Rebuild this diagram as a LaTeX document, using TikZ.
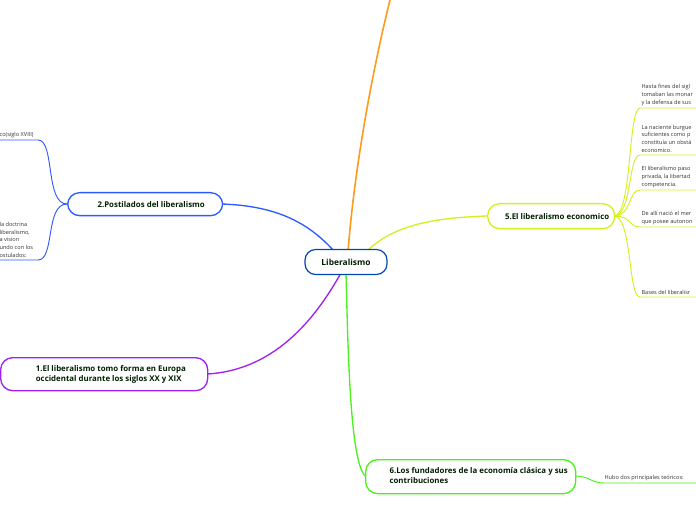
\documentclass[tikz,border=0pt]{standalone}
\usepackage{fontspec}
\setmainfont{Open Sans}
\begin{document}
\begin{tikzpicture}[x=0.75pt,y=-0.75pt,
 topic/.style={draw=#1,line width=1pt,rounded corners=9pt,fill=white,font=\bfseries\fontsize{5.9}{7.6}\selectfont,text=black!70!green!40!black,align=left,inner sep=0pt,anchor=north west},
 leaf/.style={font=\fontsize{4.2}{5.8}\selectfont,text=black!80,align=left,anchor=south west,inner sep=1pt},
 br/.style={draw=#1,line width=0.7pt}]
\useasboundingbox (0,0) rectangle (696,520);
\definecolor{cb}{HTML}{2D5BFF}\definecolor{cp}{HTML}{A020F0}\definecolor{cy}{HTML}{D4F01E}\definecolor{cg}{HTML}{4CF01E}\definecolor{co}{HTML}{FF9A1A}
\draw[br=co,line width=1.2pt] (348,252) .. controls (355,160) and (375,60) .. (390,0);
\draw[br=cb,line width=1pt] (222,204) .. controls (280,206) and (310,225) .. (333,250);
\draw[br=cp,line width=1pt] (207,374) .. controls (280,370) and (320,310) .. (341,273);
\draw[br=cy,line width=1pt] (487,216) .. controls (420,218) and (390,230) .. (368,250);
\draw[br=cg,line width=1pt] (346,273) .. controls (348,350) and (350,460) .. (365,476);
\node[draw=blue!60!cyan!70!black,line width=0.9pt,rounded corners=8pt,fill=white,minimum width=82pt*0.75,minimum height=25pt*0.75,font=\bfseries\fontsize{6.3}{8}\selectfont,text=black!70!green!40!black] (lib) at (346,262) {Liberalismo};
\node[topic=cb,minimum width=155*0.75pt,minimum height=23*0.75pt] (t2) at (67,192) {\hspace{9pt}2.Postilados del liberalismo};
\node[topic=cp,minimum width=207*0.75pt,minimum height=33*0.75pt] (t1) at (0,357) {\hspace{10pt}\begin{tabular}{@{}l@{}}1.El liberalismo tomo forma en Europa\\occidental durante los siglos XX y XIX\end{tabular}};
\node[topic=cy,minimum width=127*0.75pt,minimum height=25*0.75pt] (t5) at (487,203) {\hspace{9pt}5.El liberalismo economico};
\node[topic=cg,minimum width=210*0.75pt,minimum height=34*0.75pt] (t6) at (365,459) {\hspace{12pt}\begin{tabular}{@{}l@{}}6.Los fundadores de la economía clásica y sus\\contribuciones\end{tabular}};
\draw[br=cb] (67,204) .. controls (45,204) and (55,140) .. (38,140) -- (0,140);
\draw[br=cb] (67,204) .. controls (45,204) and (55,260) .. (38,260) -- (0,260);
\node[leaf] (l1) at (-2,139) {co(siglo XVIII)};
\node[leaf] (l2) at (-2,259) {la doctrina\\ liberalismo,\\a vision\\undo con los\\ostulados:};
\foreach \y in {108,155,190,227,297}{\draw[br=cy] (614,216) .. controls (632,216) and (628,\y) .. (640,\y) -- (696,\y);}
\node[leaf] (r1) at (640,107) {Hasta fines del sigl\\tomaban las monar\\y la defensa de sus};
\node[leaf] (r2) at (640,154) {La naciente burgue\\suficientes como p\\constituía un obstá\\economico.};
\node[leaf] (r3) at (640,189) {El liberalismo paso\\privada, la libertad\\competencia.};
\node[leaf] (r4) at (640,226) {De allí nació el mer\\que posee autonon};
\node[leaf] (r5) at (640,296) {Bases del liberalisr};
\draw[br=cg] (575,476) .. controls (590,476) and (590,483) .. (605,483) -- (696,483);
\node[leaf] (r6) at (603,482) {Hubo dos principales teóricos:};
\end{tikzpicture}
\end{document}
